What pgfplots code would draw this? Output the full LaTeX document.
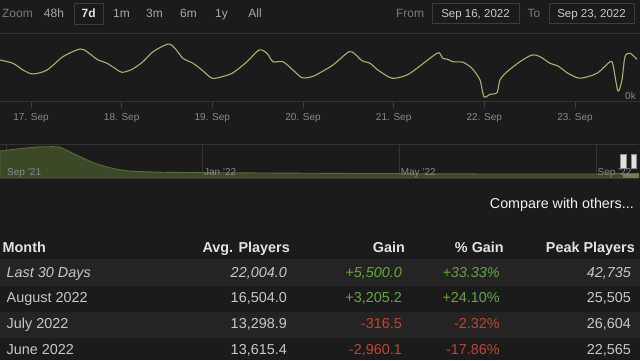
\documentclass[border=0pt]{standalone}
\usepackage{fontspec}
\setmainfont{Liberation Sans}
\usepackage{pgfplots}
\pgfplotsset{compat=1.18}
\definecolor{bg}{HTML}{1B1B1B}
\definecolor{stripe}{HTML}{242424}
\definecolor{gridc}{HTML}{343434}
\definecolor{tickc}{HTML}{3E3E3E}
\definecolor{labc}{HTML}{8A8A8A}
\definecolor{linec}{HTML}{AAB26E}
\definecolor{navfill}{HTML}{3B4927}
\definecolor{navline}{HTML}{5C6B3C}
\definecolor{navsel}{HTML}{6E7F48}
\definecolor{gainG}{HTML}{64A83C}
\definecolor{gainR}{HTML}{C0462F}
\definecolor{txt}{HTML}{C8C8C8}
\definecolor{hdr}{HTML}{E2E2E2}
\definecolor{btn}{HTML}{A8A8A8}
\definecolor{dim}{HTML}{7A7A7A}
\definecolor{boxb}{HTML}{3C3C3C}
\begin{document}
\begin{tikzpicture}[x=1pt,y=1pt]
\fill[bg] (0,0) rectangle (640,360);
% table stripes
\fill[stripe] (0,74) rectangle (640,101);
\fill[stripe] (0,22) rectangle (640,48);
% zoom buttons
\begin{scope}[every node/.style={anchor=base,inner sep=0pt,font=\fontsize{12}{14}\selectfont}]
\node[text=dim] at (17.5,342.5) {Zoom};
\node[text=btn] at (54,342.5) {48h};
\draw[boxb,fill=bg] (74,356.7) rectangle (103.5,336.3);
\node[text=hdr,font=\fontsize{12}{14}\selectfont\bfseries] at (88.7,342.5) {7d};
\node[text=btn] at (121.5,342.5) {1m};
\node[text=btn] at (154.5,342.5) {3m};
\node[text=btn] at (188.5,342.5) {6m};
\node[text=btn] at (221.5,342.5) {1y};
\node[text=btn] at (255,342.5) {All};
\node[text=dim] at (410,342.5) {From};
\draw[boxb] (432,356.7) rectangle (519,337.3);
\node[text=txt,font=\fontsize{11.5}{14}\selectfont] at (475.5,342.8) {Sep 16, 2022};
\node[text=dim] at (534,342.5) {To};
\draw[boxb] (549,356.7) rectangle (634,337.3);
\node[text=txt,font=\fontsize{11.5}{14}\selectfont] at (591.5,342.8) {Sep 23, 2022};
\end{scope}
% main chart
\begin{axis}[at={(0pt,259pt)},anchor=south west,scale only axis,width=640pt,height=68pt,
  xmin=16.658,xmax=23.717,ymin=0,ymax=40,
  axis line style={draw=none},
  ytick={0,40},yticklabels={},ymajorgrids,ytick style={draw=none},
  grid style={gridc,line width=0.8pt},
  xtick={17,18,19,20,21,22,23},
  xticklabels={17. Sep,18. Sep,19. Sep,20. Sep,21. Sep,22. Sep,23. Sep},
  xtick pos=bottom,xtick align=outside,major tick length=7pt,
  xtick style={tickc,line width=0.8pt},
  xticklabel style={font=\fontsize{10}{12}\selectfont,text=labc,yshift=-2pt},
  /pgf/number format/assume math mode=true]
\addplot[linec,line width=1.1pt,smooth,tension=0.45] coordinates {
(16.658,24.1)(16.801,22.2)(16.912,18.2)(17.022,15.9)(17.176,18.2)(17.353,26.1)
(17.540,30.6)(17.618,29.0)(17.728,24.5)(17.838,22.2)(17.926,19.2)(18.004,16.9)
(18.114,18.6)(18.235,23.1)(18.346,29.0)(18.511,33.5)(18.588,31.0)(18.676,25.1)
(18.787,22.2)(18.886,18.2)(18.996,13.4)(19.107,14.3)(19.228,16.6)(19.382,23.1)
(19.515,30.0)(19.603,28.1)(19.669,23.1)(19.779,23.1)(19.890,18.2)(19.989,13.7)
(20.099,14.3)(20.187,16.6)(20.331,21.2)(20.507,29.0)(20.573,27.6)(20.651,23.7)
(20.739,22.2)(20.827,18.2)(20.982,13.4)(21.147,15.3)(21.290,20.6)(21.434,26.5)
(21.500,28.4)(21.544,25.1)(21.599,24.5)(21.654,23.1)(21.765,22.8)(21.864,19.2)
(21.952,12.4)(21.996,2.5)(22.062,3.9)(22.140,4.9)(22.173,12.4)(22.250,17.2)
(22.393,23.1)(22.526,27.1)(22.614,26.1)(22.724,22.2)(22.812,20.6)(22.923,16.3)
(23.055,13.4)(23.242,16.3)(23.386,23.1)(23.419,21.2)(23.474,5.9)(23.518,12.4)
(23.551,26.1)(23.607,28.1)(23.684,24.5)};
\node[anchor=base east,inner sep=0pt,text=labc,font=\fontsize{10}{12}\selectfont] at (rel axis cs:0.9937,0) [yshift=2pt] {0k};
\end{axis}
% navigator
\begin{axis}[at={(0pt,182pt)},anchor=south west,scale only axis,width=639pt,height=34pt,
  xmin=-0.122,xmax=12.866,ymin=0,ymax=34,
  axis line style={draw=none},
  xtick={0,4,8,12},xticklabels={},xmajorgrids,xtick style={draw=none},
  ytick=\empty,grid style={gridc,line width=0.8pt}]
\addplot[fill=navfill,draw=navline,line width=0.9pt,smooth,tension=0.4] coordinates {
(-0.122,27)(0.55,30.7)(0.89,31.3)(1.10,30.7)(1.36,24.7)(1.65,18)(1.91,13)(2.26,8.7)
(2.58,6.7)(3.27,5.7)(4.21,5.3)(5.98,4.8)(8.01,4.3)(10.04,4.0)(12.07,4.0)(12.48,4.5)(12.866,4.5)} \closedcycle;
\addplot[fill=navsel,draw=none] coordinates {(12.55,4.5)(12.866,4.5)} \closedcycle;
\draw[gridc,line width=0.8pt] (rel axis cs:0,1) -- (rel axis cs:1,1);
\draw[gridc,line width=0.8pt] (rel axis cs:0,0) -- (rel axis cs:1,0);
\begin{scope}[every node/.style={anchor=base west,inner sep=0pt,text=labc,font=\fontsize{10}{12}\selectfont,xshift=1pt}]
\node at (axis cs:0,3) {Sep '21};
\node at (axis cs:4,3) {Jan '22};
\node at (axis cs:8,3) {May '22};
\node at (axis cs:12,3) {Sep '22};
\end{scope}
\end{axis}
\filldraw[fill=black!12,draw=black!45] (620,192) rectangle (626,206);
\filldraw[fill=black!12,draw=black!45] (631,192) rectangle (636,206);
% compare
\node[anchor=base east,inner sep=0pt,text=white!95!black,font=\fontsize{14.3}{16}\selectfont] at (634,152) {Compare with others...};
% table
\begin{scope}[every node/.style={inner sep=0pt,font=\fontsize{14.4}{16}\selectfont}]
\node[anchor=base west,text=hdr,font=\fontsize{14.4}{16}\selectfont\bfseries] at (2.5,108) {Month};
\node[anchor=base east,text=hdr,font=\fontsize{14.4}{16}\selectfont\bfseries] at (290,108) {Avg. Players};
\node[anchor=base east,text=hdr,font=\fontsize{14.4}{16}\selectfont\bfseries] at (405,108) {Gain};
\node[anchor=base east,text=hdr,font=\fontsize{14.4}{16}\selectfont\bfseries] at (504,108) {\% Gain};
\node[anchor=base east,text=hdr,font=\fontsize{14.4}{16}\selectfont\bfseries] at (635,108) {Peak Players};
% last 30 days
\node[anchor=base west,text=txt,font=\fontsize{14.4}{16}\selectfont\itshape] at (6.5,83) {Last 30 Days};
\node[anchor=base east,text=txt,font=\fontsize{14.4}{16}\selectfont\itshape] at (287,83) {22,004.0};
\node[anchor=base east,text=gainG,font=\fontsize{14.4}{16}\selectfont\itshape] at (402,83) {+5,500.0};
\node[anchor=base east,text=gainG,font=\fontsize{14.4}{16}\selectfont\itshape] at (500,83) {+33.33\%};
\node[anchor=base east,text=txt,font=\fontsize{14.4}{16}\selectfont\itshape] at (631,83) {42,735};
% August
\node[anchor=base west,text=txt] at (6.5,58) {August 2022};
\node[anchor=base east,text=txt] at (287,58) {16,504.0};
\node[anchor=base east,text=gainG] at (402,58) {+3,205.2};
\node[anchor=base east,text=gainG] at (500,58) {+24.10\%};
\node[anchor=base east,text=txt] at (631,58) {25,505};
% July
\node[anchor=base west,text=txt] at (6.5,32) {July 2022};
\node[anchor=base east,text=txt] at (287,32) {13,298.9};
\node[anchor=base east,text=gainR] at (402,32) {-316.5};
\node[anchor=base east,text=gainR] at (500,32) {-2.32\%};
\node[anchor=base east,text=txt] at (631,32) {26,604};
% June
\node[anchor=base west,text=txt] at (6.5,6) {June 2022};
\node[anchor=base east,text=txt] at (287,6) {13,615.4};
\node[anchor=base east,text=gainR] at (402,6) {-2,960.1};
\node[anchor=base east,text=gainR] at (500,6) {-17.86\%};
\node[anchor=base east,text=txt] at (631,6) {22,565};
\end{scope}
\pgfresetboundingbox
\useasboundingbox (0,0) rectangle (640,360);
\end{tikzpicture}
\end{document}
